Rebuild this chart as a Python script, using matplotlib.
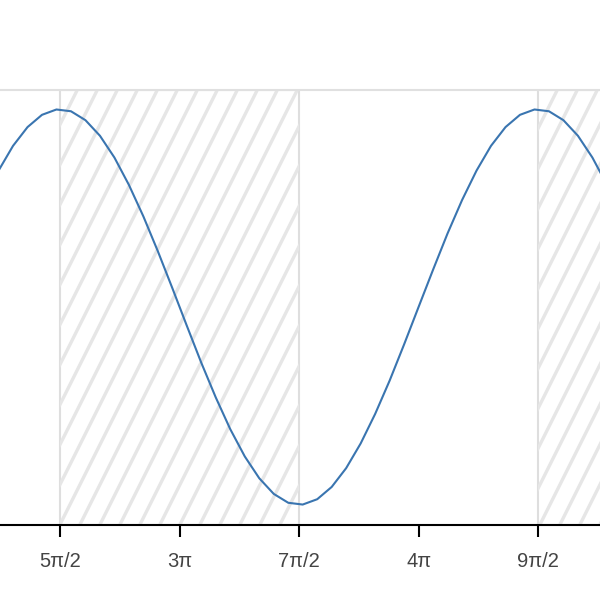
import numpy as np
import matplotlib.pyplot as plt
from matplotlib.lines import Line2D

# sampled curve (visible part)
x = [6.854, 7.045, 7.235, 7.426, 7.616, 7.806, 7.997, 8.187, 8.378, 8.568,
     8.758, 8.949, 9.139, 9.330, 9.520, 9.710, 9.901, 10.091, 10.282, 10.472,
     10.662, 10.853, 11.043, 11.234, 11.424, 11.614, 11.805, 11.995, 12.186, 12.376,
     12.566, 12.757, 12.947, 13.138, 13.328, 13.518, 13.709, 13.899, 14.090, 14.280,
     14.470, 14.661, 14.851, 15.042, 15.232]
y = [0.541, 0.690, 0.815, 0.910, 0.972, 0.999, 0.990, 0.945, 0.866, 0.756,
     0.618, 0.458, 0.282, 0.095, -0.095, -0.282, -0.458, -0.618, -0.756, -0.866,
     -0.945, -0.990, -0.999, -0.972, -0.910, -0.815, -0.690, -0.541, -0.372, -0.189,
     0.000, 0.189, 0.372, 0.541, 0.690, 0.815, 0.910, 0.972, 0.999, 0.990,
     0.945, 0.866, 0.756, 0.618, 0.458]

tick_pos = [5 * np.pi / 2, 3 * np.pi, 7 * np.pi / 2, 4 * np.pi, 9 * np.pi / 2]
tick_labels = ["5π/2", "3π", "7π/2", "4π", "9π/2"]

# hatched (decreasing) intervals
span_start = [5 * np.pi / 2, 9 * np.pi / 2]
span_end = [7 * np.pi / 2, 11 * np.pi / 2]

fig = plt.figure(figsize=(6, 6), dpi=100)
ax = fig.add_axes([0, 0.1258, 1, 0.725])

for x0, x1 in zip(span_start, span_end):
    rect = ax.axvspan(x0, x1, facecolor="none", edgecolor="#dedede", lw=1.5, zorder=1)
    for c in np.arange(-240, 640, 20):
        ln = Line2D([c / 600, (c + 217.5) / 600], [0, 1], transform=ax.transAxes,
                    color="#e6e6e6", lw=2.4, zorder=1)
        ax.add_artist(ln)
        ln.set_clip_path(rect)  # after add_artist, else it gets the axes clip

ax.plot(x, y, color="#3a75b0", lw=1.5, zorder=3)

ax.set_xlim(7.064, 14.951)
ax.set_ylim(-1.1, 1.1)

ax.set_xticks(tick_pos)
ax.set_xticklabels(tick_labels, fontfamily="Liberation Sans", fontsize=14.5, color="#444444")
ax.set_yticks([])
ax.tick_params(axis="x", direction="out", length=8.5, width=1.5, color="black", pad=11)

for s in ["left", "right"]:
    ax.spines[s].set_visible(False)
ax.spines["top"].set_color("#e0e0e0")
ax.spines["top"].set_linewidth(1.5)
ax.spines["bottom"].set_color("black")
ax.spines["bottom"].set_linewidth(1.5)
ax.spines["bottom"].set_zorder(4)

fig.savefig("out.png", dpi=100)
